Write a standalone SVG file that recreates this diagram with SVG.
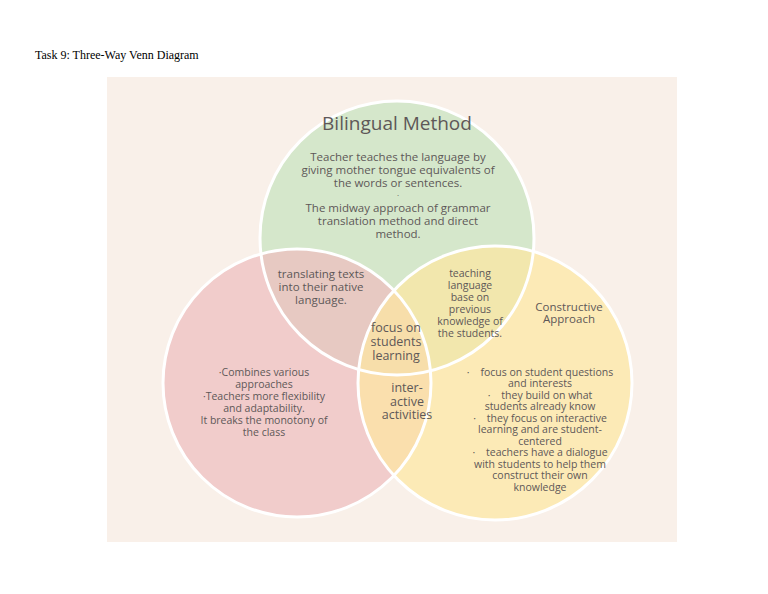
<svg xmlns="http://www.w3.org/2000/svg" width="768" height="594" viewBox="0 0 768 594">
<style>
.t{font-family:"Open Sans","Liberation Sans",sans-serif;font-size:11.5px;fill:#5e5858;text-anchor:middle}
.s{font-size:10.5px}
.m{font-size:12.5px}
.c{stroke:#fff;stroke-width:3}
</style>
<rect width="768" height="594" fill="#fff"/>
<text x="35" y="59" font-family="Liberation Serif,serif" font-size="12" fill="#000">Task 9: Three-Way Venn Diagram</text>
<rect x="107" y="77" width="570" height="465" fill="#f9f0e9"/>
<g id="circles">
<g id="bilingual"><circle cx="397" cy="238" r="137" fill="#cfe5c5" fill-opacity="0.85"/></g>
<g id="eclectic"><circle cx="297" cy="383" r="134" fill="#eebcbe" fill-opacity="0.7"/></g>
<g id="constructive"><circle cx="495" cy="383" r="137" fill="#fde7a0" fill-opacity="0.7"/></g>
</g>
<g id="connectors" fill="none">
<circle class="c" cx="397" cy="238" r="137"/>
<circle class="c" cx="297" cy="383" r="134"/>
<circle class="c" cx="495" cy="383" r="137"/>
</g>
<g id="labels">
<text x="397" y="130" class="t" style="font-size:19px">Bilingual Method</text>
<text class="t" x="398" y="161">Teacher teaches the language by</text>
<text class="t" x="398" y="174">giving mother tongue equivalents of</text>
<text class="t" x="398" y="187">the words or sentences.</text>
<text class="t" x="398" y="196" style="font-size:8px">.</text>
<text class="t" x="398" y="212">The midway approach of grammar</text>
<text class="t" x="398" y="225">translation method and direct</text>
<text class="t" x="398" y="238">method.</text>
<text class="t" x="321" y="278">translating texts</text>
<text class="t" x="321" y="291">into their native</text>
<text class="t" x="321" y="304">language.</text>
<text class="t s" x="470" y="277">teaching</text>
<text class="t s" x="470" y="289">language</text>
<text class="t s" x="470" y="301">base on</text>
<text class="t s" x="470" y="313">previous</text>
<text class="t s" x="470" y="325">knowledge of</text>
<text class="t s" x="470" y="337">the students.</text>
<text class="t" x="569" y="311">Constructive</text>
<text class="t" x="569" y="323">Approach</text>
<text class="t m" x="396" y="332">focus on</text>
<text class="t m" x="396" y="346">students</text>
<text class="t m" x="396" y="360">learning</text>
<text class="t m" x="407" y="392">inter-</text>
<text class="t m" x="407" y="406">active</text>
<text class="t m" x="407" y="419">activities</text>
<text class="t s" x="264" y="376">·Combines various</text>
<text class="t s" x="264" y="388">approaches</text>
<text class="t s" x="264" y="400">·Teachers more flexibility</text>
<text class="t s" x="264" y="412">and adaptability.</text>
<text class="t s" x="264" y="424">It breaks the monotony of</text>
<text class="t s" x="264" y="436">the class</text>
<text class="t s" x="540" y="376" xml:space="preserve">·    focus on student questions</text>
<text class="t s" x="540" y="387">and interests</text>
<text class="t s" x="540" y="399" xml:space="preserve">·    they build on what</text>
<text class="t s" x="540" y="410">students already know</text>
<text class="t s" x="540" y="422" xml:space="preserve">·    they focus on interactive</text>
<text class="t s" x="540" y="433">learning and are student-</text>
<text class="t s" x="540" y="445">centered</text>
<text class="t s" x="540" y="456" xml:space="preserve">·    teachers have a dialogue</text>
<text class="t s" x="540" y="468">with students to help them</text>
<text class="t s" x="540" y="479">construct their own</text>
<text class="t s" x="540" y="491">knowledge</text>
</g>
</svg>
